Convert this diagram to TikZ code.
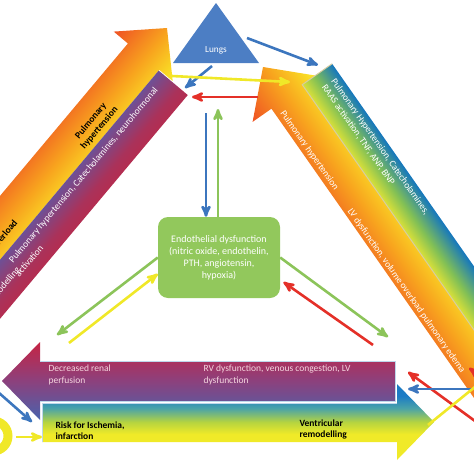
\documentclass[tikz,border=0pt]{standalone}
\usepackage{fontspec}
\setmainfont{Carlito}
\usetikzlibrary{arrows}

\definecolor{lungblue}{RGB}{76,126,196}
\definecolor{arrblue}{RGB}{60,118,190}
\definecolor{arrgreen}{RGB}{140,196,90}
\definecolor{boxgreen}{RGB}{146,200,92}
\definecolor{arryel}{RGB}{240,232,40}
\definecolor{arrred}{RGB}{228,48,40}
\definecolor{pale}{RGB}{190,215,235}
\definecolor{khaki}{RGB}{215,205,160}
\definecolor{pinkish}{RGB}{246,214,224}

\definecolor{flameY}{RGB}{250,236,40}
\definecolor{flameO}{RGB}{248,165,30}
\definecolor{flameOR}{RGB}{240,90,35}
\definecolor{flameR}{RGB}{228,32,40}
\definecolor{duskC}{RGB}{196,36,64}
\definecolor{duskR}{RGB}{170,50,90}
\definecolor{duskM}{RGB}{110,80,150}
\definecolor{duskB}{RGB}{45,110,180}
\definecolor{seaB}{RGB}{20,118,190}
\definecolor{seaG}{RGB}{130,192,85}
\definecolor{seaY}{RGB}{238,232,50}
\definecolor{renB}{RGB}{45,110,185}
\definecolor{renB2}{RGB}{70,100,175}
\definecolor{renM}{RGB}{140,65,125}
\definecolor{renC}{RGB}{200,35,65}
\definecolor{renR}{RGB}{232,38,40}
\definecolor{isY}{RGB}{240,234,40}
\definecolor{isG}{RGB}{181,212,64}
\definecolor{isT}{RGB}{74,163,168}
\definecolor{isB}{RGB}{28,124,197}
\definecolor{isB2}{RGB}{20,118,190}
\pgfdeclareverticalshading{flame}{100bp}{color(0bp)=(flameY); color(25bp)=(flameY); color(48bp)=(flameO); color(72bp)=(flameOR); color(100bp)=(flameR)}
\pgfdeclareverticalshading{dusk}{100bp}{color(0bp)=(duskC); color(40bp)=(duskR); color(75bp)=(duskM); color(100bp)=(duskB)}
\pgfdeclareverticalshading{sea}{100bp}{color(0bp)=(seaB); color(25bp)=(seaB); color(55bp)=(seaG); color(80bp)=(seaY); color(100bp)=(seaY)}
\pgfdeclareverticalshading{renal}{100bp}{color(0bp)=(renB); color(24bp)=(renB2); color(50bp)=(renM); color(76bp)=(renC); color(100bp)=(renR)}
\pgfdeclareverticalshading{ischemia}{100bp}{color(0bp)=(isY); color(42bp)=(isY); color(50bp)=(isG); color(59bp)=(isT); color(67bp)=(isB); color(100bp)=(isB2)}

\tikzset{
  link/.style={line width=2.6pt, ->, >=stealth'},
  boldlabel/.style={font=\bfseries\fontsize{9.5}{11}\selectfont, align=center},
  bandlabel/.style={text=white, font=\fontsize{9.5}{11}\selectfont},
  flipped/.style={rotate=180, anchor=west, text=white},
  shaftlabel/.style={anchor=west, align=left},
  endo/.style={fill=boxgreen, rounded corners=10pt, minimum width=122pt, minimum height=81pt,
    inner sep=0pt, text=white, align=center, font=\fontsize{10}{12}\selectfont},
}

\begin{document}
\begin{tikzpicture}[x=1pt, y=-1pt, font=\fontsize{9.5}{11.5}\selectfont]
\useasboundingbox (0,0) rectangle (474,474);
\clip (0,0) rectangle (474,474);

% left side: arrow up to the lungs, band under it
\begin{scope}[transform canvas={shift={(167pt,-28pt)}, rotate=50}, y=1pt]
 \shade[shading=flame] (0,0) -- (-37,38.5) -- (-37,20) -- (-440,20) -- (-440,-21) -- (-37,-21) -- (-37,-38.5) -- cycle;
 \shade[shading=dusk] (-38,-21) rectangle (-440,-59);
 \node[boldlabel] (ph-left) at (-120,-7) {Pulmonary\\hypertension};
 \node[boldlabel, anchor=east] (overload) at (-242,-8) {overload};
 \node[bandlabel, anchor=east] (neuro) at (-50,-31) {Pulmonary hypertension, Catecholamines, neurohormonal};
 \node[bandlabel] (activ) at (-267,-44) {activation};
 \node[bandlabel, anchor=east] (remod-left) at (-276,-41) {remodelling};
\end{scope}

% right side: arrow up to the lungs, band beside it
\begin{scope}[transform canvas={shift={(263pt,-67pt)}, rotate=125}, y=1pt]
 \shade[shading=flame] (0,0) -- (-39,40) -- (-39,17) -- (-460,17) -- (-460,-22) -- (-39,-22) -- (-39,-40) -- cycle;
 \shade[shading=sea] (-37,-22) rectangle (-460,-58.5);
 \draw[khaki, line width=1pt] (-460,-22) -- (-37,-22) -- (-37,-58.5);
 \node[flipped] (ph-right) at (-44,10) {Pulmonary hypertension};
 \node[flipped] (lvd) at (-163,11) {LV dysfunction, volume overload pulmonary edema};
 \node[flipped] (catech) at (-47,-50) {Pulmonary Hypertension, Catecholamines,};
 \node[flipped] (raas) at (-47,-39) {RAAS activation, TNF, ANP, BNP};
\end{scope}

% bottom: two horizontal arrows
\shade[shading=ischemia] (42,403) -- (397,403) -- (397,384) -- (434,422) -- (397,460) -- (397,442) -- (42,442) -- cycle;
\draw[pale, line width=0.8pt] (397,403) -- (42,403) -- (42,442);
\shade[shading=renal] (2,381) -- (40,342) -- (40,361) -- (395,361) -- (395,401) -- (40,401) -- (40,420) -- cycle;
\draw[pale, line width=0.8pt] (40,361) -- (395,361) -- (395,401) -- (40,401);
\node[shaftlabel, text=pinkish] (renal) at (45,375) {Decreased renal\\perfusion};
\node[shaftlabel, text=pinkish] (rvd) at (200,375) {RV dysfunction, venous congestion, LV\\dysfunction};
\node[shaftlabel, font=\bfseries\fontsize{9.5}{11}\selectfont] (risk) at (52,431) {Risk for Ischemia,\\infarction};
\node[shaftlabel, font=\bfseries\fontsize{9.5}{11}\selectfont] (ventr) at (296,429) {Ventricular\\remodelling};

% lungs and the box
\fill[lungblue] (216,3) -- (259,63) -- (173,63) -- cycle;
\node[text=white, font=\fontsize{9.3}{11}\selectfont] (lungs) at (216,50) {Lungs};
\node[endo] (endo) at (219,257.5) {Endothelial dysfunction\\(nitric oxide, endothelin,\\PTH, angiotensin,\\hypoxia)};

\draw[arryel, line width=9pt] (-7,436) circle[radius=15pt];

\coordinate (lungA) at (212,66);  \coordinate (lungAend) at (185,88);
\coordinate (lungB) at (247,38);  \coordinate (lungBend) at (318,65);
\coordinate (yelA) at (172,76);   \coordinate (yelAend) at (290,82);
\coordinate (redA) at (258,97);   \coordinate (redAend) at (192,97);
\coordinate (redB) at (490,432);  \coordinate (redBend) at (408,372);
\coordinate (bluB) at (472,389);  \coordinate (bluBend) at (408,389);
\coordinate (yelB) at (428,425);  \coordinate (yelBend) at (486,378);
\coordinate (redC) at (490,383);  \coordinate (redCend) at (469,368);
\coordinate (bluC) at (-10,385);  \coordinate (bluCend) at (32,422);
\coordinate (yelC) at (16,437);   \coordinate (yelCend) at (42,437);
\coordinate (bluV) at (206,113);  \coordinate (grnV) at (218,109);
\coordinate (grnL) at (57,335);   \coordinate (yelL) at (69,343);
\coordinate (grnR) at (388,337);  \coordinate (redR) at (373,345);

\foreach \a/\b/\c in {lungA/lungAend/arrblue, lungB/lungBend/arrblue, yelA/yelAend/arryel,
  redA/redAend/arrred, redB/redBend/arrred, bluB/bluBend/arrblue, yelB/yelBend/arryel,
  redC/redCend/arrred, bluC/bluCend/arrblue, yelC/yelCend/arryel}
 \draw[link, color=\c] (\a) -- (\b);

\draw[link, arrblue] (bluV) -- (bluV |- endo.north);
\draw[link, arrgreen] (endo.north -| grnV) -- (grnV);
\draw[link, arrgreen] (endo.west) -- (grnL);
\draw[link, arryel] (yelL) -- (endo.195);
\draw[link, arrgreen] (endo.east) -- (grnR);
\draw[link, arrred, shorten >=4pt] (redR) -- (endo.-20);
\end{tikzpicture}
\end{document}
